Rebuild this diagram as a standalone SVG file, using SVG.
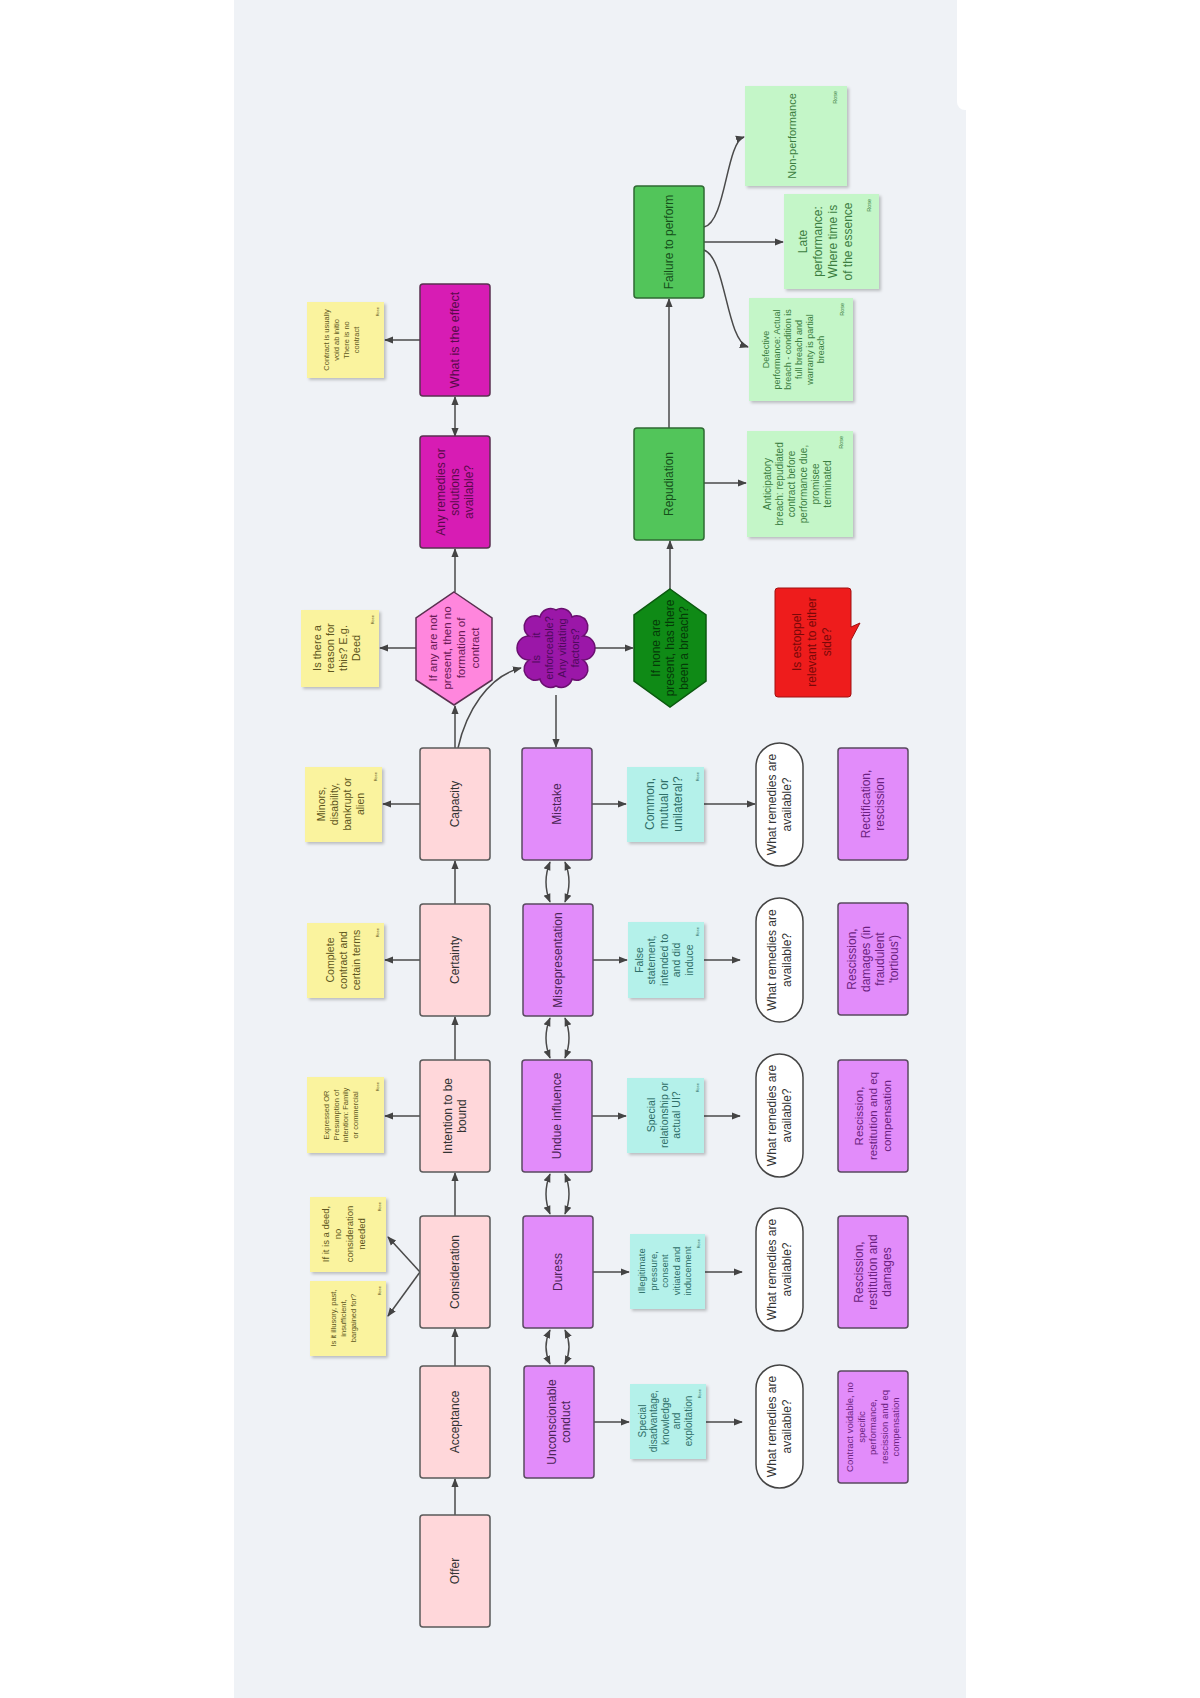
<svg xmlns="http://www.w3.org/2000/svg" width="1200" height="1698" viewBox="0 0 1200 1698">
<defs>
<marker id="ah" viewBox="0 0 10 10" refX="9" refY="5" markerWidth="9" markerHeight="9" markerUnits="userSpaceOnUse" orient="auto-start-reverse">
<path d="M0,1 L10,5 L0,9 z" fill="#444"/>
</marker>
<filter id="sh" x="-10%" y="-10%" width="130%" height="130%">
<feDropShadow dx="2" dy="2" stdDeviation="1.5" flood-color="#000" flood-opacity="0.22"/>
</filter>
<style>
text{font-family:"Liberation Sans",Arial,sans-serif;text-anchor:middle}
.box{stroke-width:1.5}
.pink{fill:#ffd7da;stroke:#5a5a5a}
.pur{fill:#e28cfa;stroke:#5a4a60}
.mag{fill:#d71cb4;stroke:#5a3050}
.grn{fill:#52c55a;stroke:#2f6a33}
.note{filter:url(#sh)}
.yel{fill:#faf39e}
.cya{fill:#b4f1ea}
.lgr{fill:#c4f6c8}
.oval{fill:#fff;stroke:#444;stroke-width:1.5}
.t12{font-size:12px}
.tp{fill:#333}
.tpu{fill:#4b2456}
.trm{fill:#6b1f80}
.tmg{fill:#5a0a4c}
.tg{fill:#15501a}
.tlg{fill:#3b7d3f}
.tcy{fill:#2f6e68}
.tye{fill:#5e5620}
.rose{font-size:5px;text-anchor:end}
.c{fill:none;stroke:#4a4a4a;stroke-width:1.5}
.a{marker-end:url(#ah)}
.b{marker-start:url(#ah);marker-end:url(#ah)}
</style>
</defs>
<rect x="0" y="0" width="1200" height="1698" fill="#ffffff"/>
<rect x="234" y="0" width="732" height="1698" fill="#eff2f6"/>
<rect x="957" y="-10" width="40" height="120" rx="8" fill="#ffffff"/>

<g id="connectors">
<path class="c a" d="M455,1515 L455,1479"/>
<path class="c a" d="M455,1366 L455,1329"/>
<path class="c a" d="M455,1216 L455,1173"/>
<path class="c a" d="M455,1060 L455,1017"/>
<path class="c a" d="M455,904 L455,861"/>
<path class="c a" d="M455,748 L455,706"/>
<path class="c a" d="M458,748 C466,712 488,676 521,668"/>
<path class="c a" d="M455,592 L455,549"/>
<path class="c b" d="M455,436 L455,397"/>
<path class="c a" d="M420,340 L385,340"/>
<path class="c a" d="M416,648 L380,648"/>
<path class="c a" d="M420,804 L383,804"/>
<path class="c a" d="M420,960 L385,960"/>
<path class="c a" d="M420,1116 L385,1116"/>
<path class="c a" d="M420,1272 L388,1237"/>
<path class="c a" d="M420,1272 L388,1316"/>
<path class="c a" d="M556,695 L556,747"/>
<path class="c a" d="M593,648 L633,648"/>
<path class="c a" d="M670,589 L670,541"/>
<path class="c a" d="M669,428 L669,299"/>
<path class="c a" d="M704,483 L746,483"/>
<path class="c a" d="M704,227 C726,222 726,142 744,137"/>
<path class="c a" d="M704,242 L783,242"/>
<path class="c a" d="M704,250 C726,258 726,340 748,347"/>
<path class="c b" d="M550,862 Q542,882 550,902"/>
<path class="c b" d="M565,862 Q573,882 565,902"/>
<path class="c b" d="M550,1018 Q542,1038 550,1058"/>
<path class="c b" d="M565,1018 Q573,1038 565,1058"/>
<path class="c b" d="M550,1174 Q542,1194 550,1214"/>
<path class="c b" d="M565,1174 Q573,1194 565,1214"/>
<path class="c b" d="M550,1330 Q542,1347 550,1364"/>
<path class="c b" d="M565,1330 Q573,1347 565,1364"/>
<path class="c a" d="M592,804 L626,804"/>
<path class="c a" d="M593,960 L627,960"/>
<path class="c a" d="M592,1116 L626,1116"/>
<path class="c a" d="M593,1272 L629,1272"/>
<path class="c a" d="M594,1422 L629,1422"/>
<path class="c a" d="M704,804 L755,804"/>
<path class="c a" d="M704,960 L740,960"/>
<path class="c a" d="M704,1116 L740,1116"/>
<path class="c a" d="M705,1272 L742,1272"/>
<path class="c a" d="M706,1422 L742,1422"/>
</g>

<!-- Formation column -->
<g id="offer"><rect class="box pink" x="420" y="1515" width="70" height="112" rx="3"/>
<text class="t12 tp" transform="translate(455,1571) rotate(-90)"><tspan x="0" y="4.2">Offer</tspan></text></g>
<g id="acceptance"><rect class="box pink" x="420" y="1366" width="70" height="112" rx="3"/>
<text class="t12 tp" transform="translate(455,1422) rotate(-90)"><tspan x="0" y="4.2">Acceptance</tspan></text></g>
<g id="consideration"><rect class="box pink" x="420" y="1216" width="70" height="112" rx="3"/>
<text class="t12 tp" transform="translate(455,1272) rotate(-90)"><tspan x="0" y="4.2">Consideration</tspan></text></g>
<g id="intention"><rect class="box pink" x="420" y="1060" width="70" height="112" rx="3"/>
<text class="t12 tp" transform="translate(455,1116) rotate(-90)"><tspan x="0" y="-2.8">Intention to be</tspan><tspan x="0" y="11.2">bound</tspan></text></g>
<g id="certainty"><rect class="box pink" x="420" y="904" width="70" height="112" rx="3"/>
<text class="t12 tp" transform="translate(455,960) rotate(-90)"><tspan x="0" y="4.2">Certainty</tspan></text></g>
<g id="capacity"><rect class="box pink" x="420" y="748" width="70" height="112" rx="3"/>
<text class="t12 tp" transform="translate(455,804) rotate(-90)"><tspan x="0" y="4.2">Capacity</tspan></text></g>
<g id="not-present"><polygon points="454,592 492,618 492,680 454,705 416,680 416,618" fill="#ff86dd" stroke="#5a3050" stroke-width="1.5"/>
<text style="font-size:11.5px;fill:#6a1a55" transform="translate(454,648) rotate(-90)"><tspan x="0" y="-17">If any are not</tspan><tspan x="0" y="-3">present, then no</tspan><tspan x="0" y="11">formation of</tspan><tspan x="0" y="25">contract</tspan></text></g>
<g id="any-remedies"><rect class="box mag" x="420" y="436" width="70" height="112" rx="3"/>
<text class="t12 tmg" transform="translate(455,492) rotate(-90)"><tspan x="0" y="-9.8">Any remedies or</tspan><tspan x="0" y="4.2">solutions</tspan><tspan x="0" y="18.2">available?</tspan></text></g>
<g id="what-effect"><rect class="box mag" x="420" y="284" width="70" height="112" rx="3"/>
<text class="tmg" style="font-size:12.5px" transform="translate(455,340) rotate(-90)"><tspan x="0" y="4.4">What is the effect</tspan></text></g>

<!-- yellow notes -->
<g id="note-void"><rect class="note yel" x="307" y="302" width="77" height="76"/>
<text class="tye" style="font-size:7.5px" transform="translate(341,340) rotate(-90)"><tspan x="0" y="-12.4">Contract is usually</tspan><tspan x="0" y="-2.4">void ab initio</tspan><tspan x="0" y="7.6">There is no</tspan><tspan x="0" y="17.6">contract</tspan></text>
<text class="rose tye" style="font-size:4px" transform="translate(379,307) rotate(-90)">Rose</text></g>
<g id="note-reason"><rect class="note yel" x="301" y="610" width="78" height="77"/>
<text class="tye" style="font-size:11px" transform="translate(337,648) rotate(-90)"><tspan x="0" y="-15.6">Is there a</tspan><tspan x="0" y="-2.6">reason for</tspan><tspan x="0" y="10.4">this? E.g.</tspan><tspan x="0" y="23.4">Deed</tspan></text>
<text class="rose tye" style="font-size:4px" transform="translate(374,615) rotate(-90)">Rose</text></g>
<g id="note-minors"><rect class="note yel" x="305" y="767" width="77" height="75"/>
<text class="tye" style="font-size:10.5px" transform="translate(341,804) rotate(-90)"><tspan x="0" y="-15.8">Minors,</tspan><tspan x="0" y="-2.8">disability,</tspan><tspan x="0" y="10.2">bankrupt or</tspan><tspan x="0" y="23.2">alien</tspan></text>
<text class="rose tye" style="font-size:4px" transform="translate(377,772) rotate(-90)">Rose</text></g>
<g id="note-complete"><rect class="note yel" x="307" y="923" width="77" height="75"/>
<text class="tye" style="font-size:10.5px" transform="translate(343,960) rotate(-90)"><tspan x="0" y="-9.3">Complete</tspan><tspan x="0" y="3.7">contract and</tspan><tspan x="0" y="16.7">certain terms</tspan></text>
<text class="rose tye" style="font-size:4px" transform="translate(379,928) rotate(-90)">Rose</text></g>
<g id="note-expressed"><rect class="note yel" x="307" y="1077" width="77" height="76"/>
<text class="tye" style="font-size:7.5px" transform="translate(341,1115) rotate(-90)"><tspan x="0" y="-11.6">Expressed OR</tspan><tspan x="0" y="-2.1">Presumption of</tspan><tspan x="0" y="7.4">intention: Family</tspan><tspan x="0" y="16.9">or commercial</tspan></text>
<text class="rose tye" style="font-size:4px" transform="translate(379,1082) rotate(-90)">Rose</text></g>
<g id="note-deed"><rect class="note yel" x="310" y="1197" width="76" height="75"/>
<text class="tye" style="font-size:9.5px" transform="translate(344,1234) rotate(-90)"><tspan x="0" y="-14.7">If it is a deed,</tspan><tspan x="0" y="-2.7">no</tspan><tspan x="0" y="9.3">consideration</tspan><tspan x="0" y="21.3">needed</tspan></text>
<text class="rose tye" style="font-size:4px" transform="translate(381,1202) rotate(-90)">Rose</text></g>
<g id="note-illusory"><rect class="note yel" x="310" y="1281" width="76" height="75"/>
<text class="tye" style="font-size:7.5px" transform="translate(343,1318) rotate(-90)"><tspan x="0" y="-7.4">Is it illusory, past,</tspan><tspan x="0" y="2.6">insufficient,</tspan><tspan x="0" y="12.6">bargained for?</tspan></text>
<text class="rose tye" style="font-size:4px" transform="translate(381,1286) rotate(-90)">Rose</text></g>

<!-- vitiating column -->
<g id="enforceable"><path d="M556,610 A11,11 0 0 1 572,617 A11,11 0 0 1 583,636 A11,11 0 0 1 583,660 A11,11 0 0 1 572,679 A11,11 0 0 1 556,686 A11,11 0 0 1 540,679 A11,11 0 0 1 529,660 A11,11 0 0 1 529,636 A11,11 0 0 1 540,617 A11,11 0 0 1 556,610 z" fill="#9b17a8" stroke="#6a1070" stroke-width="1.5"/>
<text style="font-size:11px;fill:#4e0a5c" transform="translate(556,648) rotate(-90)"><tspan x="0" y="-15.6" word-spacing="14">Is it</tspan><tspan x="0" y="-2.6">enforceable?</tspan><tspan x="0" y="10.4">Any vitiating</tspan><tspan x="0" y="23.4">factors?</tspan></text></g>
<g id="mistake"><rect class="box pur" x="522" y="748" width="70" height="112" rx="3"/>
<text class="t12 tpu" transform="translate(557,804) rotate(-90)"><tspan x="0" y="4.2">Mistake</tspan></text></g>
<g id="misrepresentation"><rect class="box pur" x="523" y="904" width="70" height="112" rx="3"/>
<text class="t12 tpu" transform="translate(558,960) rotate(-90)"><tspan x="0" y="4.2">Misrepresentation</tspan></text></g>
<g id="undue-influence"><rect class="box pur" x="522" y="1060" width="70" height="112" rx="3"/>
<text class="t12 tpu" transform="translate(557,1116) rotate(-90)"><tspan x="0" y="4.2">Undue influence</tspan></text></g>
<g id="duress"><rect class="box pur" x="523" y="1216" width="70" height="112" rx="3"/>
<text class="t12 tpu" transform="translate(558,1272) rotate(-90)"><tspan x="0" y="4.2">Duress</tspan></text></g>
<g id="unconscionable"><rect class="box pur" x="524" y="1366" width="70" height="112" rx="3"/>
<text class="t12 tpu" transform="translate(559,1422) rotate(-90)"><tspan x="0" y="-2.8">Unconscionable</tspan><tspan x="0" y="11.2">conduct</tspan></text></g>

<!-- cyan notes -->
<g id="note-common"><rect class="note cya" x="627" y="767" width="77" height="75"/>
<text class="t12 tcy" transform="translate(664,804) rotate(-90)"><tspan x="0" y="-9.8">Common,</tspan><tspan x="0" y="4.2">mutual or</tspan><tspan x="0" y="18.2">unilateral?</tspan></text>
<text class="rose tcy" style="font-size:4px" transform="translate(699,772) rotate(-90)">Rose</text></g>
<g id="note-false"><rect class="note cya" x="628" y="922" width="76" height="76"/>
<text class="tcy" style="font-size:10.5px" transform="translate(664,960) rotate(-90)"><tspan x="0" y="-21.3">False</tspan><tspan x="0" y="-8.8">statement,</tspan><tspan x="0" y="3.7">intended to</tspan><tspan x="0" y="16.2">and did</tspan><tspan x="0" y="28.7">induce</tspan></text>
<text class="rose tcy" style="font-size:4px" transform="translate(699,927) rotate(-90)">Rose</text></g>
<g id="note-special-rel"><rect class="note cya" x="627" y="1078" width="77" height="75"/>
<text class="tcy" style="font-size:10.5px" transform="translate(664,1115) rotate(-90)"><tspan x="0" y="-8.8">Special</tspan><tspan x="0" y="3.7">relationship or</tspan><tspan x="0" y="16.2">actual UI?</tspan></text>
<text class="rose tcy" style="font-size:4px" transform="translate(699,1083) rotate(-90)">Rose</text></g>
<g id="note-illegitimate"><rect class="note cya" x="630" y="1234" width="75" height="75"/>
<text class="tcy" style="font-size:9.5px" transform="translate(665,1271) rotate(-90)"><tspan x="0" y="-19.7">Illegitimate</tspan><tspan x="0" y="-8.2">pressure,</tspan><tspan x="0" y="3.3">consent</tspan><tspan x="0" y="14.8">vitiated and</tspan><tspan x="0" y="26.3">inducement</tspan></text>
<text class="rose tcy" style="font-size:4px" transform="translate(700,1239) rotate(-90)">Rose</text></g>
<g id="note-special-dis"><rect class="note cya" x="630" y="1384" width="76" height="75"/>
<text class="tcy" style="font-size:10px" transform="translate(665,1421) rotate(-90)"><tspan x="0" y="-19.5">Special</tspan><tspan x="0" y="-8">disadvantage,</tspan><tspan x="0" y="3.5">knowledge</tspan><tspan x="0" y="15">and</tspan><tspan x="0" y="26.5">exploitation</tspan></text>
<text class="rose tcy" style="font-size:4px" transform="translate(701,1389) rotate(-90)">Rose</text></g>

<!-- ovals -->
<g id="q-mistake"><rect class="oval" x="756" y="743" width="47" height="123" rx="23.5"/>
<text class="t12 tp" transform="translate(779.5,804.5) rotate(-90)"><tspan x="0" y="-3.3">What remedies are</tspan><tspan x="0" y="11.7">available?</tspan></text></g>
<g id="q-misrep"><rect class="oval" x="756" y="898" width="47" height="124" rx="23.5"/>
<text class="t12 tp" transform="translate(779.5,960) rotate(-90)"><tspan x="0" y="-3.3">What remedies are</tspan><tspan x="0" y="11.7">available?</tspan></text></g>
<g id="q-undue"><rect class="oval" x="756" y="1054" width="47" height="123" rx="23.5"/>
<text class="t12 tp" transform="translate(779.5,1115.5) rotate(-90)"><tspan x="0" y="-3.3">What remedies are</tspan><tspan x="0" y="11.7">available?</tspan></text></g>
<g id="q-duress"><rect class="oval" x="756" y="1208" width="47" height="123" rx="23.5"/>
<text class="t12 tp" transform="translate(779.5,1269.5) rotate(-90)"><tspan x="0" y="-3.3">What remedies are</tspan><tspan x="0" y="11.7">available?</tspan></text></g>
<g id="q-unconscionable"><rect class="oval" x="756" y="1365" width="47" height="123" rx="23.5"/>
<text class="t12 tp" transform="translate(779.5,1426.5) rotate(-90)"><tspan x="0" y="-3.3">What remedies are</tspan><tspan x="0" y="11.7">available?</tspan></text></g>

<!-- remedies -->
<g id="r-mistake"><rect class="box pur" x="838" y="748" width="70" height="112" rx="3"/>
<text class="t12 trm" transform="translate(873,804) rotate(-90)"><tspan x="0" y="-2.8">Rectification,</tspan><tspan x="0" y="11.2">rescission</tspan></text></g>
<g id="r-misrep"><rect class="box pur" x="838" y="903" width="70" height="112" rx="3"/>
<text class="t12 trm" transform="translate(873,959) rotate(-90)"><tspan x="0" y="-16.8">Rescission,</tspan><tspan x="0" y="-2.8">damages (in</tspan><tspan x="0" y="11.2">fraudulent</tspan><tspan x="0" y="25.2">'tortious')</tspan></text></g>
<g id="r-undue"><rect class="box pur" x="838" y="1060" width="70" height="112" rx="3"/>
<text class="trm" style="font-size:11.5px" transform="translate(873,1116) rotate(-90)"><tspan x="0" y="-10">Rescission,</tspan><tspan x="0" y="4">restitution and eq</tspan><tspan x="0" y="18">compensation</tspan></text></g>
<g id="r-duress"><rect class="box pur" x="838" y="1216" width="70" height="112" rx="3"/>
<text class="t12 trm" transform="translate(873,1272) rotate(-90)"><tspan x="0" y="-9.8">Rescission,</tspan><tspan x="0" y="4.2">restitution and</tspan><tspan x="0" y="18.2">damages</tspan></text></g>
<g id="r-unconscionable"><rect class="box pur" x="838" y="1371" width="70" height="112" rx="3"/>
<text class="trm" style="font-size:9.5px" transform="translate(873,1427) rotate(-90)"><tspan x="0" y="-19.7">Contract voidable, no</tspan><tspan x="0" y="-8.2">specific</tspan><tspan x="0" y="3.3">performance,</tspan><tspan x="0" y="14.8">rescission and eq</tspan><tspan x="0" y="26.3">compensation</tspan></text></g>

<!-- breach column -->
<g id="breach"><polygon points="670,589 706,615 706,681 670,707 634,681 634,615" fill="#0f8a16" stroke="#0a5a0e" stroke-width="1.5"/>
<text class="t12" style="fill:#053a08" transform="translate(670,648) rotate(-90)"><tspan x="0" y="-9.8">If none are</tspan><tspan x="0" y="4.2">present, has there</tspan><tspan x="0" y="18.2">been a breach?</tspan></text></g>
<g id="repudiation"><rect class="box grn" x="634" y="428" width="70" height="112" rx="3"/>
<text class="t12 tg" transform="translate(669,484) rotate(-90)"><tspan x="0" y="4.2">Repudiation</tspan></text></g>
<g id="failure"><rect class="box grn" x="634" y="186" width="70" height="112" rx="3"/>
<text class="t12 tg" transform="translate(669,242) rotate(-90)"><tspan x="0" y="4.2">Failure to perform</tspan></text></g>
<g id="estoppel"><path d="M778,588 L848,588 Q851,588 851,591 L851,627 L860,623 L851,640 L851,694 Q851,697 848,697 L778,697 Q775,697 775,694 L775,591 Q775,588 778,588 z" fill="#ee1c1c" stroke="#a01010" stroke-width="1"/>
<text class="t12" style="fill:#7a0808" transform="translate(812,642) rotate(-90)"><tspan x="0" y="-10.8">Is estoppel</tspan><tspan x="0" y="4.2">relevant to either</tspan><tspan x="0" y="19.2">side?</tspan></text></g>

<!-- light green notes -->
<g id="note-nonperf"><rect class="note lgr" x="745" y="86" width="102" height="100"/>
<text class="tlg" style="font-size:11px" transform="translate(792,136) rotate(-90)"><tspan x="0" y="3.9">Non-performance</tspan></text>
<text class="rose tlg" style="font-size:5.5px" transform="translate(837,91) rotate(-90)">Rose</text></g>
<g id="note-late"><rect class="note lgr" x="784" y="194" width="95" height="95"/>
<text class="t12 tlg" transform="translate(825,241.5) rotate(-90)"><tspan x="0" y="-18.3">Late</tspan><tspan x="0" y="-3.3">performance:</tspan><tspan x="0" y="11.7">Where time is</tspan><tspan x="0" y="26.7">of the essence</tspan></text>
<text class="rose tlg" style="font-size:5.5px" transform="translate(871,199) rotate(-90)">Rose</text></g>
<g id="note-defective"><rect class="note lgr" x="749" y="298" width="104" height="103"/>
<text class="tlg" style="font-size:9px" transform="translate(793,349.5) rotate(-90)"><tspan x="0" y="-24.3">Defective</tspan><tspan x="0" y="-13.3">performance: Actual</tspan><tspan x="0" y="-2.3">breach - condition is</tspan><tspan x="0" y="8.7">full breach and</tspan><tspan x="0" y="19.7">warranty is partial</tspan><tspan x="0" y="30.7">breach</tspan></text>
<text class="rose tlg" style="font-size:5.5px" transform="translate(844,303) rotate(-90)">Rose</text></g>
<g id="note-anticipatory"><rect class="note lgr" x="747" y="431" width="106" height="106"/>
<text class="tlg" style="font-size:10px" transform="translate(797,484) rotate(-90)"><tspan x="0" y="-26.5">Anticipatory</tspan><tspan x="0" y="-14.5">breach:  repudiated</tspan><tspan x="0" y="-2.5">contract before</tspan><tspan x="0" y="9.5">performance due,</tspan><tspan x="0" y="21.5">promisee</tspan><tspan x="0" y="33.5">terminated</tspan></text>
<text class="rose tlg" style="font-size:5.5px" transform="translate(843,436) rotate(-90)">Rose</text></g>
</svg>
